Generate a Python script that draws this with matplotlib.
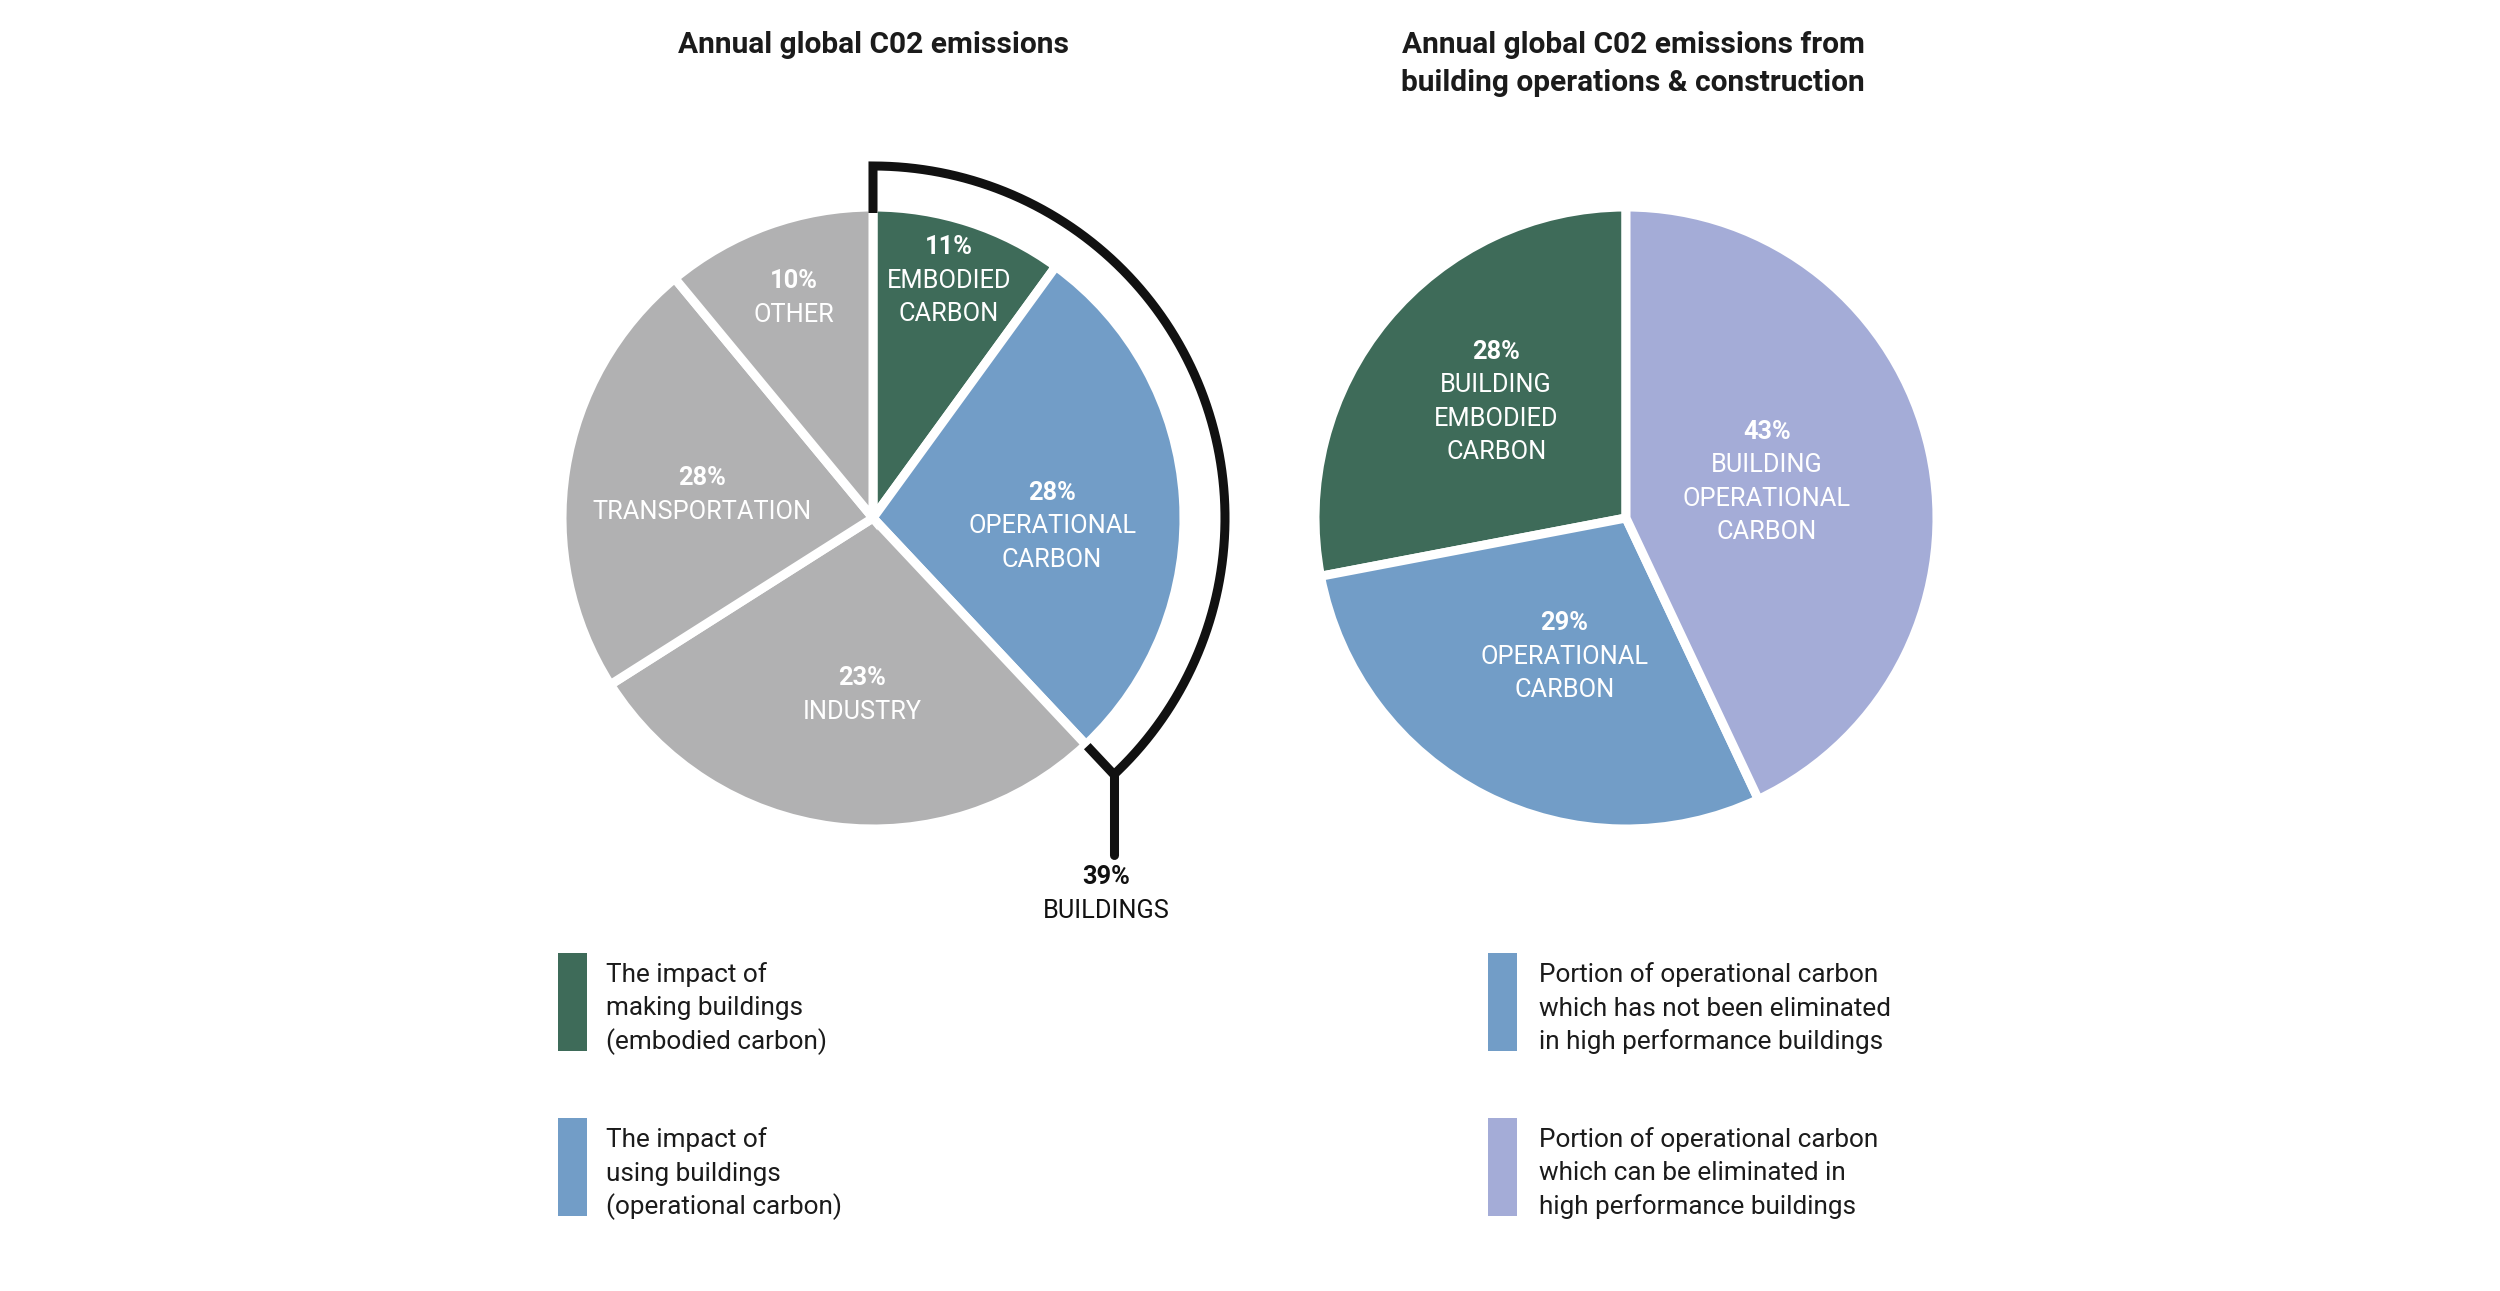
import numpy as np
import matplotlib
matplotlib.use("Agg")
import matplotlib.pyplot as plt
from matplotlib.patches import Rectangle

# ---------------- data ----------------
left_title = "Annual global C02 emissions"
left_pct_labels = ["11%", "28%", "23%", "28%", "10%"]
left_names = ["EMBODIED\nCARBON", "OPERATIONAL\nCARBON", "INDUSTRY", "TRANSPORTATION", "OTHER"]
left_shares = [10, 28, 28, 23, 11]          # wedge sizes as drawn in the picture
left_kinds = ["embodied", "operational", "other", "other", "other"]

buildings_pct = "39%"
buildings_name = "BUILDINGS"

right_title = ["Annual global C02 emissions from", "building operations & construction"]
right_pct_labels = ["28%", "29%", "43%"]
right_names = ["BUILDING\nEMBODIED\nCARBON", "OPERATIONAL\nCARBON", "BUILDING\nOPERATIONAL\nCARBON"]
right_shares = [28, 29, 43]
right_kinds = ["embodied", "operational", "eliminable"]

left_legend = [("embodied", ["The impact of", "making buildings", "(embodied carbon)"]),
               ("operational", ["The impact of", "using buildings", "(operational carbon)"])]
right_legend = [("operational", ["Portion of operational carbon", "which has not been eliminated",
                                 "in high performance buildings"]),
                ("eliminable", ["Portion of operational carbon", "which can be eliminated in",
                                "high performance buildings"])]

# ---------------- style / layout ----------------
palette = {"embodied": "#3e6b59", "operational": "#729dc7",
           "eliminable": "#a4acd7", "other": "#b1b1b2"}
FONT = "Roboto"
TXT = "#1b1b1b"
W, H = 2500, 1291
# label anchor (angle in degrees, distance as fraction of radius)
left_label_pos = [(72.5, 0.81), (-1.6, 0.576), (266.4, 0.56), (171.3, 0.556), (109.5, 0.76)]
right_label_pos = [(137.5, 0.566), (245.6, 0.48), (15.5, 0.47)]

fig = plt.figure(figsize=(25, 12.91), dpi=100)
ax = fig.add_axes([0, 0, 1, 1])

def Y(y):
    return H - y

R_PIE = 311
LC = (873, Y(518))
RC = (1626, Y(518))
LINE = 33.5

def pie_labels(center, pcts, names, positions):
    for p, n, (a, d) in zip(pcts, names, positions):
        bx = center[0] + d * R_PIE * np.cos(np.radians(a))
        by = center[1] + d * R_PIE * np.sin(np.radians(a)) - 3
        lines = [p] + n.split("\n")
        k = len(lines)
        for i, ln in enumerate(lines):
            yy = by + ((k - 1) / 2 - i) * LINE
            ax.text(bx, yy, ln, ha="center", va="center", color="white",
                    fontsize=18.3, family=FONT,
                    fontweight="bold" if i == 0 else "normal")

# left pie (clockwise from 12 o'clock)
ax.pie(left_shares, colors=[palette[k] for k in left_kinds], startangle=90,
       counterclock=False, center=LC, radius=R_PIE, frame=True,
       wedgeprops=dict(edgecolor="white", linewidth=6.5))
pie_labels(LC, left_pct_labels, left_names, left_label_pos)

# right pie (counter-clockwise from 12 o'clock)
ax.pie(right_shares, colors=[palette[k] for k in right_kinds], startangle=90,
       counterclock=True, center=RC, radius=R_PIE, frame=True,
       wedgeprops=dict(edgecolor="white", linewidth=6.5))
pie_labels(RC, right_pct_labels, right_names, right_label_pos)

# bracket around the buildings share
R_BR = 352
end_ang = 90 - 360 * sum(left_shares[:2]) / 100.0
th = np.radians(np.linspace(90, end_ang, 300))
bx = np.concatenate([[LC[0]], LC[0] + R_BR * np.cos(th)])
by = np.concatenate([[LC[1] + R_PIE - 6], LC[1] + R_BR * np.sin(th)])
ax.plot(bx, by, color="#111111", lw=6.5, solid_joinstyle="miter", solid_capstyle="butt")
jx, jy = bx[-1], by[-1]
ea = np.radians(end_ang)
ax.plot([LC[0] + (R_PIE + 2) * np.cos(ea), jx], [LC[1] + (R_PIE + 2) * np.sin(ea), jy],
        color="#111111", lw=6.5, solid_capstyle="butt")
ax.plot([jx, jx], [jy, jy - 80], color="#111111", lw=6.5, solid_capstyle="round")
ax.text(jx - 8, Y(877), buildings_pct, ha="center", va="center", fontsize=18.3,
        fontweight="bold", color="#111111", family=FONT)
ax.text(jx - 8, Y(911), buildings_name, ha="center", va="center", fontsize=18.3,
        color="#111111", family=FONT)

# titles
ax.text(LC[0], Y(45), left_title, ha="center", va="center", fontsize=21.5,
        fontweight="bold", color=TXT, family=FONT)
for i, t in enumerate(right_title):
    ax.text(1633, Y(45 + 38 * i), t, ha="center", va="center", fontsize=21.5,
            fontweight="bold", color=TXT, family=FONT)

# legends
def legend_block(x_box, x_txt, entries):
    for j, (kind, lines) in enumerate(entries):
        top = 953 + j * 165
        ax.add_patch(Rectangle((x_box, Y(top + 98)), 29, 98, color=palette[kind], lw=0))
        for i, ln in enumerate(lines):
            ax.text(x_txt, Y(top + 22 + i * 33.5), ln, ha="left", va="center",
                    fontsize=18.8, color=TXT, family=FONT)

legend_block(558, 606, left_legend)
legend_block(1488, 1539, right_legend)

ax.set_xlim(0, W)
ax.set_ylim(0, H)
ax.set_aspect("equal")
ax.axis("off")
fig.savefig("out.png", dpi=100, facecolor="white")
